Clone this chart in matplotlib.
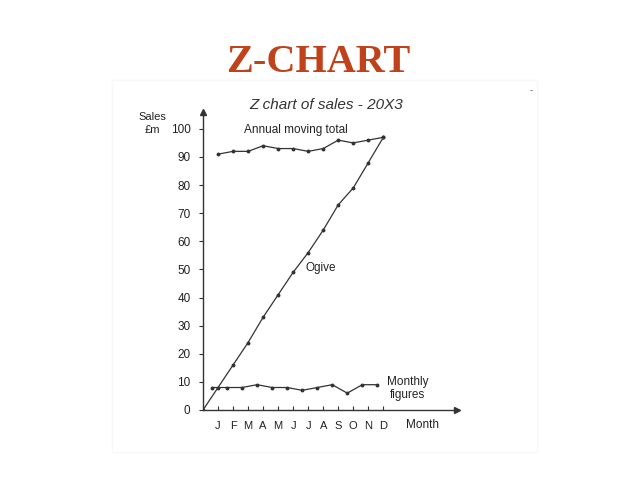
import matplotlib.pyplot as plt
from matplotlib.patches import Rectangle

# datos
months = ["J", "F", "M", "A", "M", "J", "J", "A", "S", "O", "N", "D"]
monthly = [8, 8, 8, 9, 8, 8, 7, 8, 9, 6, 9, 9]
ogive = [0, 8, 16, 24, 33, 41, 49, 56, 64, 73, 79, 88, 97]
annual_total = [91, 92, 92, 94, 93, 93, 92, 93, 96, 95, 96, 97]

plt.rcParams['font.family'] = ['Liberation Sans', 'DejaVu Sans']

W, H = 638, 479
fig = plt.figure(figsize=(W / 100, H / 100), dpi=100)

# marco tenue de la imagen escaneada
fig.patches.append(Rectangle((112 / W, 1 - 452 / H), 425 / W, 372 / H,
                             transform=fig.transFigure, fill=False,
                             edgecolor="#f8f8f8", lw=1))

fig.text(318 / W, 1 - 62 / H, "Z-CHART", ha="center", va="center",
         family="Liberation Serif", weight="bold", fontsize=29, color="#c0421a")
fig.text(326 / W, 1 - 105 / H, "Z chart of sales - 20X3", ha="center",
         va="center", style="italic", fontsize=11, color="#333333")
fig.text(531 / W, 1 - 90 / H, "-", ha="center", va="center", fontsize=7,
         color="#666666")

ax = fig.add_axes([203 / W, 1 - 410 / H, 254 / W, 298 / H])
ax.set_xlim(0, 16.9)
ax.set_ylim(0, 106)

x_months = list(range(1, 13))
x_monthly = [m - 0.4 for m in x_months]
line_kw = dict(color="#333333", lw=0.9, marker="o", markersize=1.8)

ax.plot(x_monthly, monthly, **line_kw)
ax.plot(range(0, 13), ogive, **line_kw)
ax.plot(x_months, annual_total, **line_kw)

for s in ["top", "right"]:
    ax.spines[s].set_visible(False)
for s in ["left", "bottom"]:
    ax.spines[s].set_color("#333333")
    ax.spines[s].set_linewidth(1.0)
ax.plot(1, 0, ">", color="#333333", markersize=4,
        transform=ax.get_yaxis_transform(), clip_on=False)
ax.plot(0, 1, "^", color="#333333", markersize=4,
        transform=ax.get_xaxis_transform(), clip_on=False)

ax.set_yticks(range(0, 101, 10))
ax.set_xticks(x_months)
ax.set_xticklabels(months)
ax.tick_params(axis="y", length=3, width=0.8, color="#333333",
               labelsize=8.5, labelcolor="#222222", pad=6)
ax.tick_params(axis="x", direction="in", length=3, width=0.8,
               color="#333333", labelsize=8, labelcolor="#222222", pad=8)

ax.text(6.2, 99.5, "Annual moving total", ha="center", va="center",
        fontsize=8.5, color="#222222")
ax.text(6.8, 50.5, "Ogive", ha="left", va="center", fontsize=8.5,
        color="#222222")
ax.text(13.6, 7.5, "Monthly\nfigures", ha="center", va="center",
        fontsize=8.5, color="#222222", linespacing=1.1)
ax.text(14.6, -5.2, "Month", ha="center", va="center", fontsize=8.5,
        color="#222222", clip_on=False)

fig.text(138 / W, 1 - 117 / H, "Sales", ha="left", va="center",
         fontsize=8, color="#222222")
fig.text(152 / W, 1 - 130 / H, "£m", ha="center", va="center",
         fontsize=8, color="#222222")

fig.savefig("out.png", dpi=100)
